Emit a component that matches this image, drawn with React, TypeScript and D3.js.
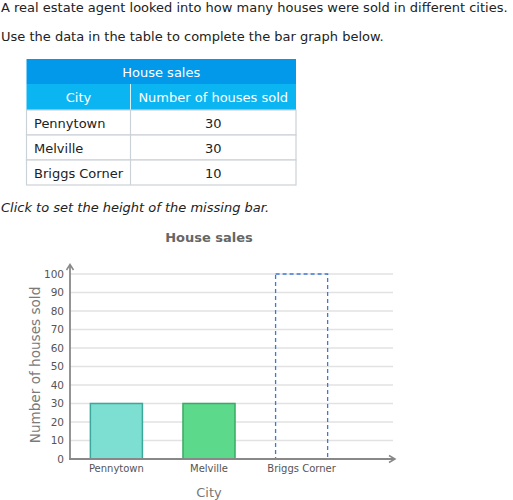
import React, { useEffect, useRef } from "react";
import * as d3 from "d3";

// data
const intro = [
  "A real estate agent looked into how many houses were sold in different cities.",
  "Use the data in the table to complete the bar graph below.",
];
const tableTitle = "House sales";
const tableHeaders = ["City", "Number of houses sold"];
const cities = ["Pennytown", "Melville", "Briggs Corner"];
const houses = [30, 30, 10];
const barValues = [30, 30, null];
const missingBarValue = 100;
const barFills = ["#7ddfd1", "#5cd98b", "none"];
const barStrokes = ["#3aa99b", "#3aaa64", "#3f78d4"];
const yTicks = [0, 10, 20, 30, 40, 50, 60, 70, 80, 90, 100];

const FONT = "'DejaVu Sans', Verdana, sans-serif";

function App() {
  const svgRef = useRef(null);

  useEffect(() => {
    const svg = d3.select(svgRef.current);
    svg.selectAll("*").remove();

    // intro text
    svg
      .selectAll(".intro")
      .data(intro)
      .join("text")
      .attr("class", "intro")
      .attr("x", 1)
      .attr("y", (d, i) => 12 + i * 29)
      .attr("font-size", 13)
      .attr("fill", "#222")
      .text((d) => d);

    // table
    const tx = 26.5, tw = 269.5, col = 104;
    const rowY = [59, 84, 110, 135, 160, 185];
    const table = svg.append("g");
    table.append("rect").attr("x", tx).attr("y", rowY[0]).attr("width", tw)
      .attr("height", rowY[1] - rowY[0]).attr("fill", "#0299ea");
    table.append("rect").attr("x", tx).attr("y", rowY[1]).attr("width", tw)
      .attr("height", rowY[2] - rowY[1]).attr("fill", "#0ab5f2");
    table.append("line").attr("x1", tx + col).attr("x2", tx + col)
      .attr("y1", rowY[1]).attr("y2", rowY[2]).attr("stroke", "#d8f2fc");
    table.append("text").attr("x", tx + tw / 2).attr("y", rowY[0] + 17.5)
      .attr("text-anchor", "middle").attr("font-size", 13).attr("fill", "#fff")
      .text(tableTitle);
    table.selectAll(".hdr").data(tableHeaders).join("text").attr("class", "hdr")
      .attr("x", (d, i) => (i === 0 ? tx + col / 2 : tx + col + (tw - col) / 2))
      .attr("y", rowY[1] + 18)
      .attr("text-anchor", "middle").attr("font-size", 13).attr("fill", "#fff")
      .text((d) => d);

    const rows = table.selectAll(".row").data(cities).join("g").attr("class", "row");
    rows.append("rect")
      .attr("x", tx).attr("y", (d, i) => rowY[i + 2])
      .attr("width", tw).attr("height", (d, i) => rowY[i + 3] - rowY[i + 2])
      .attr("fill", "#fff").attr("stroke", "#cbd2d8").attr("stroke-width", 1.2);
    rows.append("line")
      .attr("x1", tx + col).attr("x2", tx + col)
      .attr("y1", (d, i) => rowY[i + 2]).attr("y2", (d, i) => rowY[i + 3])
      .attr("stroke", "#cbd2d8").attr("stroke-width", 1.2);
    rows.append("text")
      .attr("x", tx + 7.5).attr("y", (d, i) => rowY[i + 2] + 17.5)
      .attr("font-size", 13).attr("fill", "#222").text((d) => d);
    rows.append("text")
      .attr("x", tx + col + (tw - col) / 2).attr("y", (d, i) => rowY[i + 2] + 17.5)
      .attr("text-anchor", "middle").attr("font-size", 13).attr("fill", "#222")
      .text((d, i) => houses[i]);

    svg.append("text").attr("x", 1).attr("y", 212)
      .attr("font-size", 13).attr("font-style", "italic").attr("fill", "#222")
      .text("Click to set the height of the missing bar.");

    // chart
    const x0 = 70, gridEnd = 393;
    const x = d3.scaleBand().domain(cities).range([70, 348])
      .paddingInner(0.438).paddingOuter(0.22);
    const y = d3.scaleLinear().domain([0, 100]).range([459, 274]);

    const chart = svg.append("g");
    chart.append("text").attr("x", 209).attr("y", 242)
      .attr("text-anchor", "middle").attr("font-size", 13).attr("font-weight", "bold")
      .attr("fill", "#666").text("House sales");

    chart.selectAll(".grid").data(yTicks.slice(1)).join("line").attr("class", "grid")
      .attr("x1", x0).attr("x2", gridEnd)
      .attr("y1", (d) => y(d)).attr("y2", (d) => y(d))
      .attr("stroke", "#e2e2e2").attr("stroke-width", 1.3);

    const yAxis = d3.axisLeft(y).tickValues(yTicks).tickSize(0).tickPadding(6);
    const gy = chart.append("g").attr("transform", `translate(${x0},0)`).call(yAxis);
    gy.select(".domain").remove();
    gy.selectAll("text").attr("font-family", FONT).attr("font-size", 10.5).attr("fill", "#555");

    const xAxis = d3.axisBottom(x).tickSize(0).tickPadding(6);
    const gx = chart.append("g").attr("transform", `translate(0,${y(0)})`).call(xAxis);
    gx.select(".domain").remove();
    gx.selectAll("text").attr("font-family", FONT).attr("font-size", 10).attr("fill", "#555");

    chart.selectAll(".bar").data(cities).join("rect").attr("class", "bar")
      .attr("x", (d) => x(d))
      .attr("y", (d, i) => y(barValues[i] ?? missingBarValue))
      .attr("width", x.bandwidth())
      .attr("height", (d, i) => y(0) - y(barValues[i] ?? missingBarValue))
      .attr("fill", (d, i) => barFills[i])
      .attr("stroke", (d, i) => barStrokes[i])
      .attr("stroke-width", (d, i) => (barValues[i] == null ? 1.3 : 1.5))
      .attr("stroke-dasharray", (d, i) => (barValues[i] == null ? "4,3" : null));

    // axis lines with arrows
    chart.append("line").attr("x1", x0).attr("x2", x0).attr("y1", y(0)).attr("y2", 265)
      .attr("stroke", "#888").attr("stroke-width", 1.8);
    chart.append("path").attr("d", `M${x0 - 3.5},${270} L${x0},${264.5} L${x0 + 3.5},${270}`)
      .attr("fill", "none").attr("stroke", "#888").attr("stroke-width", 1.5);
    chart.append("line").attr("x1", x0 - 1).attr("x2", 394).attr("y1", y(0)).attr("y2", y(0))
      .attr("stroke", "#888").attr("stroke-width", 1.8);
    chart.append("path").attr("d", `M${389},${y(0) - 3.5} L${395},${y(0)} L${389},${y(0) + 3.5}`)
      .attr("fill", "none").attr("stroke", "#888").attr("stroke-width", 1.5);

    chart.append("text").attr("x", 209).attr("y", 497)
      .attr("text-anchor", "middle").attr("font-size", 13).attr("fill", "#777").text("City");
    chart.append("text")
      .attr("transform", `translate(40,365) rotate(-90)`)
      .attr("text-anchor", "middle").attr("font-size", 13.6).attr("fill", "#7a7a7a")
      .text("Number of houses sold");
  }, []);

  return (
    <svg
      ref={svgRef}
      width={513}
      height={500}
      style={{ position: "absolute", left: 0, top: 0, fontFamily: FONT, background: "#fff" }}
    />
  );
}

export default App;
